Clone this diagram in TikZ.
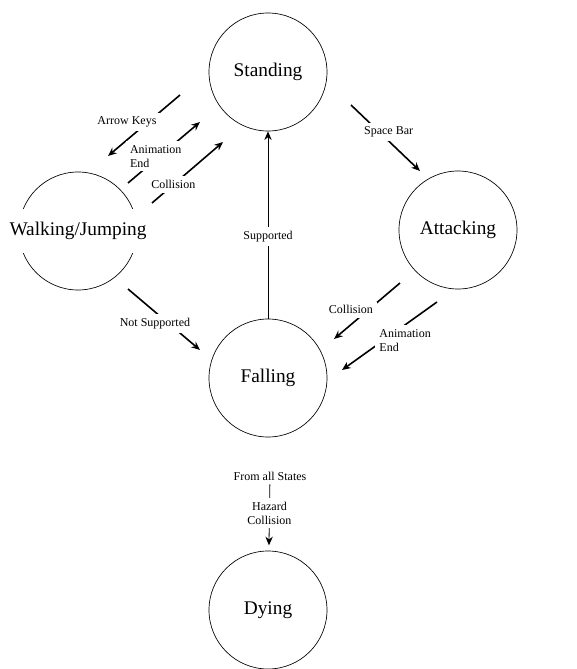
\documentclass[tikz,border=0pt]{standalone}
\usepackage{fontspec}
\setmainfont{Liberation Serif}
\usetikzlibrary{arrows.meta,positioning}

\begin{document}
\begin{tikzpicture}[x=0.75pt,y=-0.75pt,>={Stealth[length=6.5pt,width=5.5pt]},
  state/.style = {draw, circle, line width=0.5pt, minimum size=88.5pt, inner sep=0pt, font=\fontsize{14.5}{17}\selectfont},
  lbl/.style = {fill=white, inner sep=3pt, font=\fontsize{9}{10.5}\selectfont, align=left},
  conn/.style = {->, line width=1.2pt},
  thinconn/.style = {->, line width=0.6pt},]
\useasboundingbox (0,0) rectangle (577,669);
% states
\node (stand) at (268,72)[state] {Standing};
\node (walk) at (78,231)[state] {};
\node (walktext) at (walk)[fill=white, inner xsep=1pt, minimum height=33pt, font=\fontsize{14.5}{17}\selectfont] {Walking/Jumping};
\node (attack) at (458,230)[state] {Attacking};
\node (fall) at (268,378)[state] {Falling};
\node (dying) at (268,610)[state] {Dying};
\node (fromall) at (270,476)[lbl] {From all States};
% free ends of the transitions
\coordinate (ak1) at (180,95);
\coordinate (ak2) at (108,156);
\coordinate (ae1) at (128,183);
\coordinate (ae2) at (200,122);
\coordinate (co1) at (152,203);
\coordinate (co2) at (223,142);
\coordinate (sb1) at (351,105);
\coordinate (sb2) at (420,171);
\coordinate (ns1) at (128,289);
\coordinate (ns2) at (200,350);
\coordinate (cr1) at (400,283);
\coordinate (cr2) at (334,339);
\coordinate (ar1) at (437,302);
\coordinate (ar2) at (342,370);
% transitions
\draw[conn] (ak1)--node[lbl,pos=0.44,xshift=-16pt] {Arrow Keys}(ak2);
\draw[conn] (ae1)--node[lbl,pos=0.44,xshift=-3pt] {Animation\\End}(ae2);
\draw[conn] (co1)--node[lbl,pos=0.3] {Collision}(co2);
\draw[conn] (sb1)--node[lbl,pos=0.41,xshift=7pt] {Space Bar}(sb2);
\draw[conn] (ns1)--node[lbl,pos=0.56,xshift=-10pt] {Not Supported}(ns2);
\draw[conn] (cr1)--node[lbl,pos=0.48,xshift=-13pt] {Collision}(cr2);
\draw[conn] (ar1)--node[lbl,pos=0.56,xshift=16pt] {Animation\\End}(ar2);
\draw[thinconn] (fall)--node[lbl,pos=0.44] {Supported}(stand);
\draw[thinconn,shorten >=4pt] (fromall)--node[lbl,pos=0.43,align=center] {Hazard\\Collision}(dying);
\end{tikzpicture}
\end{document}
